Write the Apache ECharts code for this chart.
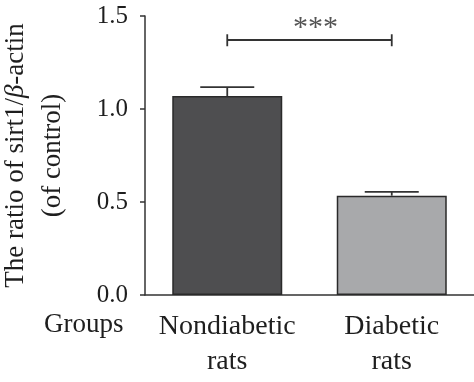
<!DOCTYPE html>
<html>
<head>
<meta charset="utf-8">
<script src="https://cdn.jsdelivr.net/npm/echarts@6/dist/echarts.min.js"></script>
<style>html,body{margin:0;padding:0;background:#fff}#c{width:474px;height:382px}</style>
</head>
<body>
<div id="c"></div>
<script>
var categories = ['Nondiabetic\nrats', 'Diabetic\nrats'];
var means = [1.07, 0.534];
var errors = [0.048, 0.02];
var barColors = ['#4e4e50', '#a8a9ab'];
var yTicks = [0, 0.5, 1.0, 1.5];
var bracket = { from: 0, to: 1, value: 1.371, drop: 0.056, label: '***' };

var FONT = 'Liberation Serif';
var chart = echarts.init(document.getElementById('c'));

chart.setOption({
  animation: false,
  backgroundColor: '#fff',
  grid: { left: 145, right: 0, top: 16, bottom: 87, outerBoundsMode: 'none', containLabel: false },
  graphic: [{
    type: 'text',
    left: 44, top: 311,
    style: { text: 'Groups', font: '27px "' + FONT + '"', fill: '#1e1e1e' }
  }],
  xAxis: {
    type: 'category',
    data: categories,
    axisLine: { lineStyle: { color: '#333', width: 1.5 } },
    axisTick: { alignWithLabel: true, length: 6, lineStyle: { color: '#333', width: 1.5 } },
    axisLabel: { interval: 0, margin: 14, fontFamily: FONT, fontSize: 28, color: '#1e1e1e', lineHeight: 35 }
  },
  yAxis: {
    type: 'value',
    min: 0, max: 1.5, interval: 0.5,
    splitLine: { show: false },
    axisLine: { show: true, lineStyle: { color: '#333', width: 1.5 } },
    axisTick: { show: true, length: 5, lineStyle: { color: '#333', width: 1.5 } },
    axisLabel: {
      margin: 17, fontFamily: FONT, fontSize: 25, color: '#1e1e1e',
      formatter: function (v) { return v.toFixed(1); }
    },
    name: '{a|The ratio of sirt1/}{b|\u03b2}{a|-actin}\n{a|(of control)}',
    nameLocation: 'middle',
    nameRotate: 90,
    nameGap: 74,
    nameTextStyle: {
      fontFamily: FONT, fontSize: 27, color: '#1e1e1e', lineHeight: 37,
      rich: {
        a: { fontFamily: FONT, fontSize: 27, color: '#1e1e1e', lineHeight: 37 },
        b: { fontFamily: FONT, fontSize: 27, color: '#1e1e1e', fontStyle: 'italic', lineHeight: 37 }
      }
    }
  },
  series: [
    {
      type: 'bar',
      barWidth: 110,
      data: means.map(function (v, i) {
        return { value: v, itemStyle: { color: barColors[i], borderColor: '#2a2a2a', borderWidth: 1.5 } };
      }),
      z: 2
    },
    {
      type: 'custom',
      z: 3,
      data: means.map(function (v, i) { return [i, v, errors[i]]; }),
      renderItem: function (params, api) {
        var i = api.value(0), m = api.value(1), e = api.value(2);
        var p0 = api.coord([i, m]);
        var p1 = api.coord([i, m + e]);
        var half = 27;
        var st = { stroke: '#333', lineWidth: 1.8 };
        return {
          type: 'group',
          children: [
            { type: 'line', shape: { x1: p0[0], y1: p0[1], x2: p1[0], y2: p1[1] }, style: st },
            { type: 'line', shape: { x1: p1[0] - half, y1: p1[1], x2: p1[0] + half, y2: p1[1] }, style: st }
          ]
        };
      }
    },
    {
      type: 'custom',
      z: 3,
      data: [[bracket.from, bracket.to, bracket.value, bracket.drop]],
      renderItem: function (params, api) {
        var a = api.coord([api.value(0), api.value(2)]);
        var b = api.coord([api.value(1), api.value(2)]);
        var d = api.size([0, api.value(3)])[1];
        var st = { stroke: '#333', lineWidth: 1.8 };
        return {
          type: 'group',
          children: [
            { type: 'line', shape: { x1: a[0], y1: a[1], x2: b[0], y2: b[1] }, style: st },
            { type: 'line', shape: { x1: a[0], y1: a[1] - d * 0.55, x2: a[0], y2: a[1] + d * 0.6 }, style: st },
            { type: 'line', shape: { x1: b[0], y1: b[1] - d * 0.55, x2: b[0], y2: b[1] + d * 0.6 }, style: st },
            { type: 'text', style: { x: (a[0] + b[0]) / 2 + 6, y: a[1] - 12, text: bracket.label,
              font: '30px "' + FONT + '"', fill: '#555', align: 'center', verticalAlign: 'middle' } }
          ]
        };
      }
    }
  ]
});
</script>
</body>
</html>
